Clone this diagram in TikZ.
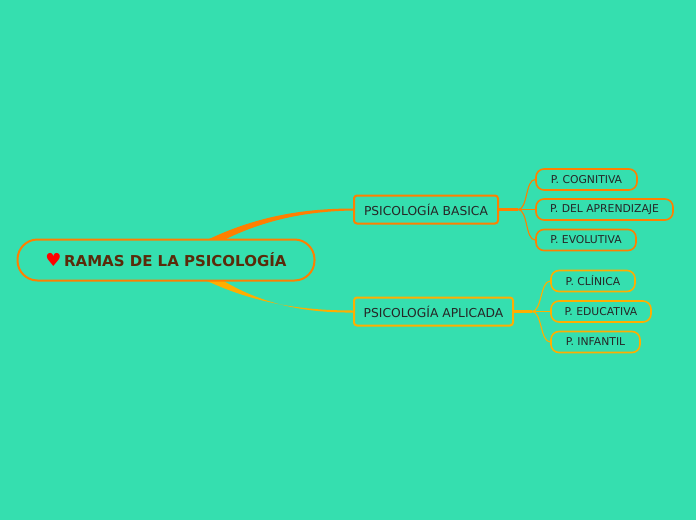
\documentclass[tikz,border=0pt]{standalone}
\usepackage{fontspec}
\setmainfont{DejaVu Sans}
\begin{document}
\begin{tikzpicture}[x=1pt,y=-1pt,
  central/.style={draw=orange1,line width=2pt,rounded corners=20pt,fill=bg,minimum width=297pt,minimum height=41pt,inner sep=0pt,font=\fontsize{15}{16}\selectfont\bfseries,text=brown1},
  branch/.style={draw=#1,line width=2pt,rounded corners=3pt,fill=bg,minimum height=28pt,inner sep=0pt,font=\fontsize{12.3}{14}\selectfont,text=black!85},
  leaf/.style={draw=#1,line width=1.6pt,rounded corners=8pt,fill=bg,minimum height=21pt,inner sep=0pt,font=\fontsize{10.8}{12}\selectfont,text=black!85},
  link/.style={draw=#1,line width=1.1pt}]
\definecolor{bg}{HTML}{35DFAF}
\definecolor{orange1}{HTML}{FF7F00}
\definecolor{gold1}{HTML}{FFAE00}
\definecolor{brown1}{HTML}{5A2A0A}
\fill[bg] (0,0) rectangle (696,520);
\useasboundingbox (0,0) rectangle (696,520);
% tapered main links
\fill[orange1] (205,241) .. controls (260,214) and (310,208.5) .. (354,208.5) -- (354,210.5) .. controls (310,211) and (265,219) .. (222,241) -- cycle;
\fill[gold1] (205,280) .. controls (260,306) and (310,310.5) .. (354,310.5) -- (354,312.5) .. controls (310,313) and (265,306) .. (222,280) -- cycle;
\node[central] (c) at (166,260) {\textcolor{red}{\fontsize{18}{18}\selectfont ♥}\,RAMAS DE LA PSICOLOGÍA};
\node[branch=orange1,minimum width=144pt] (b) at (426,209.5) {PSICOLOGÍA BASICA};
\node[branch=gold1,minimum width=159pt] (a) at (433.5,311.5) {PSICOLOGÍA APLICADA};
\node[leaf=orange1,minimum width=101pt] (l1) at (586.5,179.5) {P. COGNITIVA};
\node[leaf=orange1,minimum width=137pt] (l2) at (604.5,209.5) {P. DEL APRENDIZAJE};
\node[leaf=orange1,minimum width=100pt] (l3) at (586,240) {P. EVOLUTIVA};
\node[leaf=gold1,minimum width=84pt] (m1) at (593,281) {P. CLÍNICA};
\node[leaf=gold1,minimum width=100pt] (m2) at (601,311.5) {P. EDUCATIVA};
\node[leaf=gold1,minimum width=89pt] (m3) at (595.5,342) {P. INFANTIL};
\coordinate (bj) at (518,209.5);
\coordinate (bk) at (528,209.5);
\coordinate (aj) at (532,311.5);
\coordinate (ak) at (542,311.5);
\draw[link=orange1,line width=2.2pt] (b.east) -- (bj);
\foreach \n in {l1,l2,l3}{\draw[link=orange1] (bj) .. controls (bk) and ([xshift=-10pt]\n.west) .. (\n.west);}
\draw[link=gold1,line width=2.2pt] (a.east) -- (aj);
\foreach \n in {m1,m2,m3}{\draw[link=gold1] (aj) .. controls (ak) and ([xshift=-10pt]\n.west) .. (\n.west);}
\end{tikzpicture}
\end{document}
